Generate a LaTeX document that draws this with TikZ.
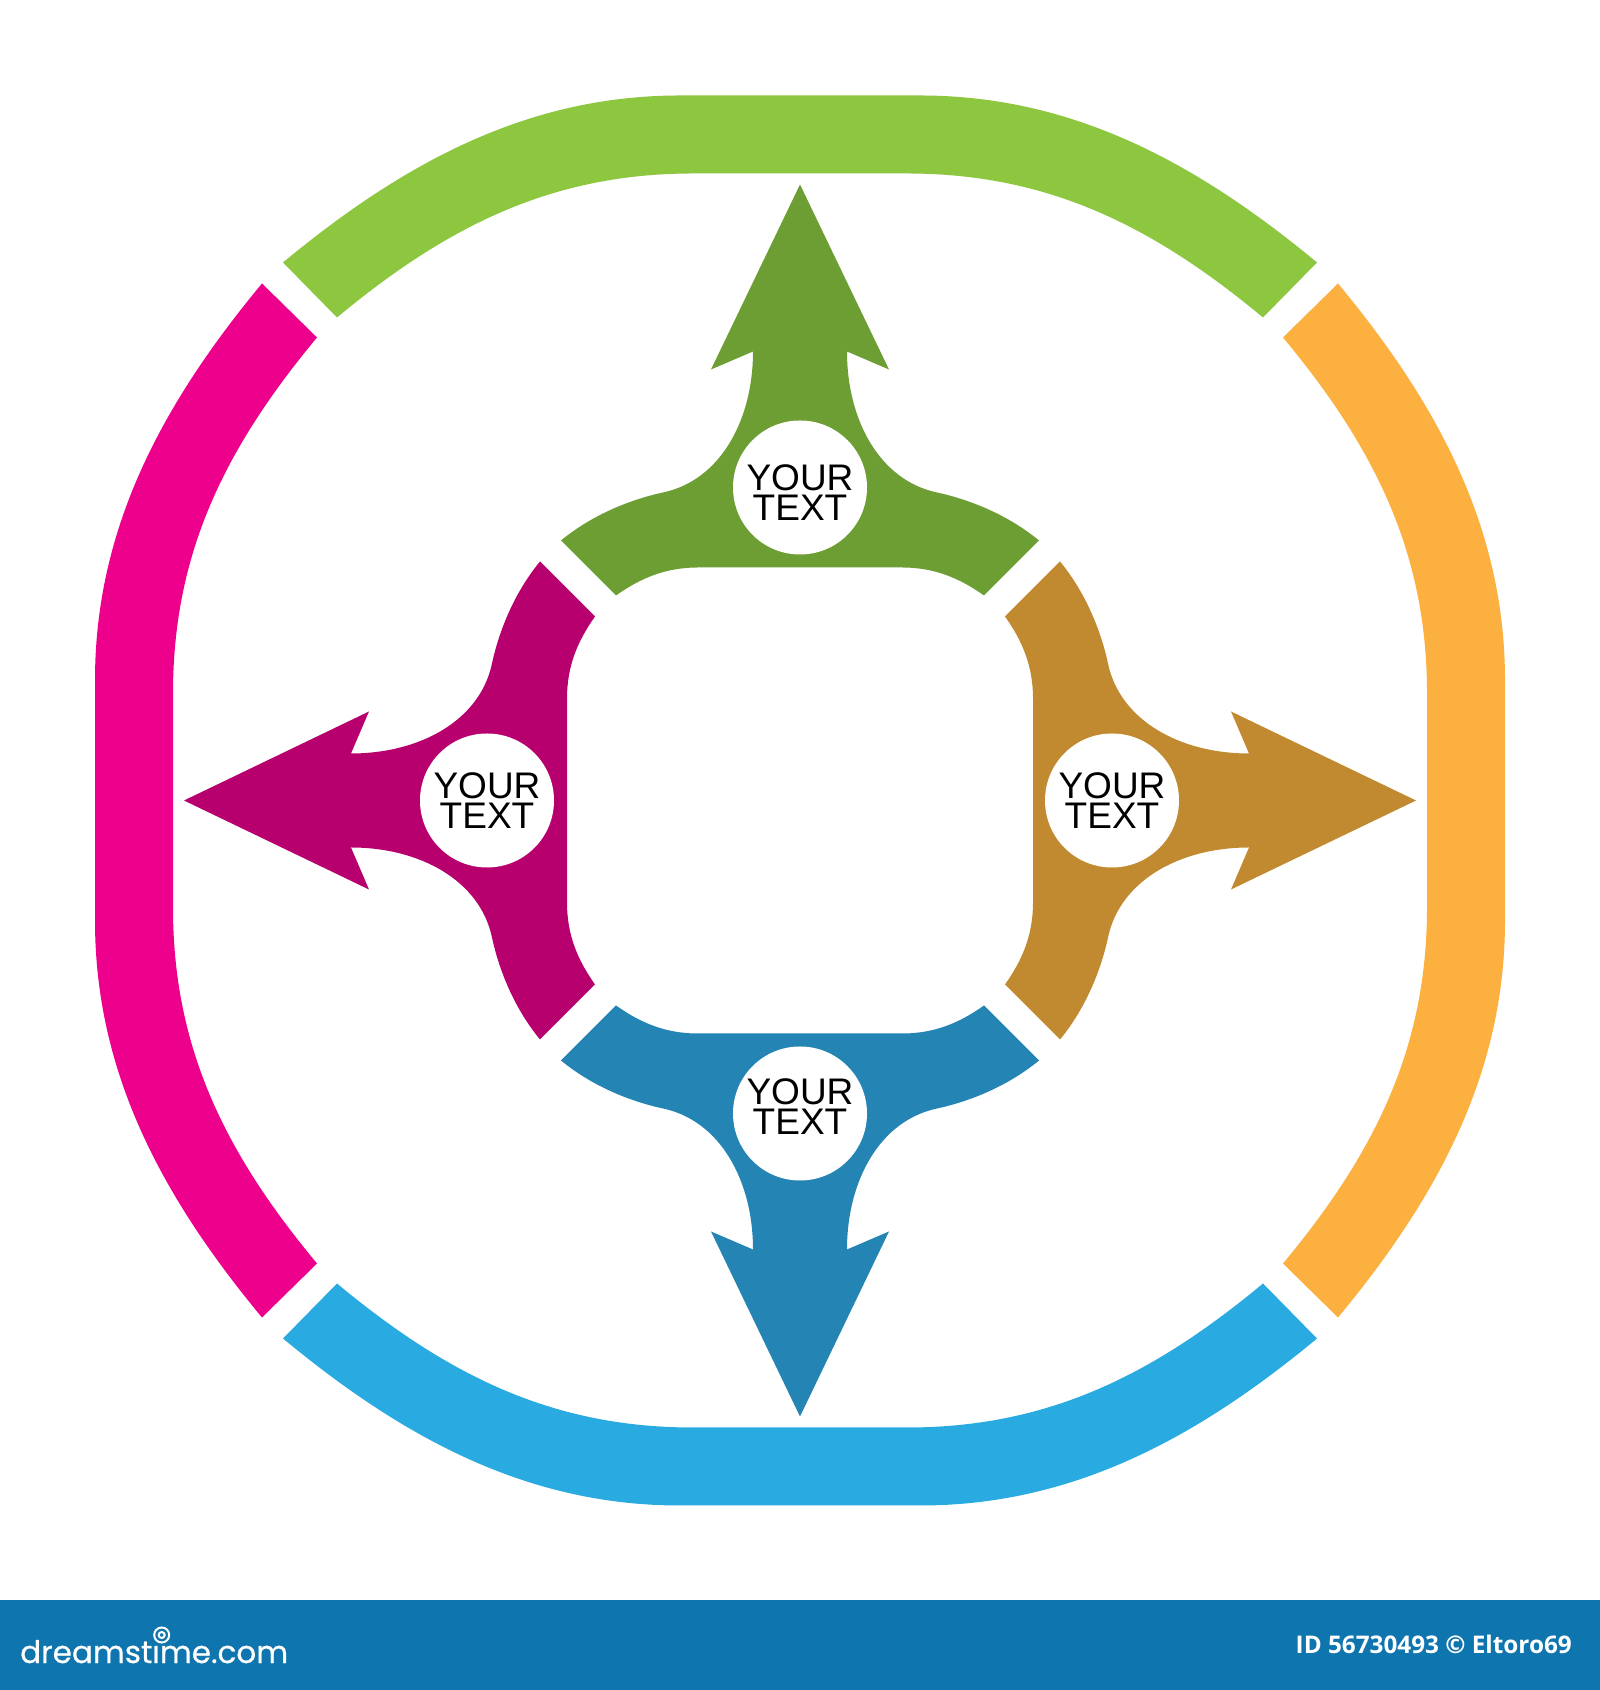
\documentclass[tikz,border=0pt]{standalone}
\usepackage{fontspec}
\setmainfont{Liberation Sans}
\newfontfamily\footfont{Open Sans}
\newfontfamily\logofont[FakeBold=0.6]{Poppins}
\definecolor{ringgreen}{HTML}{8DC63F}
\definecolor{ringpink}{HTML}{EC008C}
\definecolor{ringblue}{HTML}{29ABE2}
\definecolor{ringorange}{HTML}{FBB040}
\definecolor{arrowgreen}{HTML}{6D9E33}
\definecolor{arrowpink}{HTML}{B7006E}
\definecolor{arrowblue}{HTML}{2484B4}
\definecolor{arrowbrown}{HTML}{C28A30}
\definecolor{footerblue}{HTML}{0F75AE}
\tikzset{
  hubdisc/.style={circle,fill=white,draw=none,minimum size=134,inner sep=0},
  hubtext/.style={align=center,text=black,inner sep=0,font=\fontsize{37}{30}\selectfont},
}
\begin{document}
\begin{tikzpicture}[x=1pt,y=1pt]
\useasboundingbox (0,0) rectangle (1600,1690);
\fill[white] (0,0) rectangle (1600,1690);
\foreach \ang/\rc/\ac in {0/ringgreen/arrowgreen,90/ringpink/arrowpink,180/ringblue/arrowblue,270/ringorange/arrowbrown}{
  \begin{scope}[shift={(800,889.5)},rotate=\ang]
    % outer ring segment
    \fill[\rc] (-517,538) .. controls (-394,640) and (-270,705) .. (-120,705)
      -- (120,705) .. controls (270,705) and (394,640) .. (517,538)
      -- (463,483) .. controls (350,577) and (245,627) .. (107,627)
      -- (-107,627) .. controls (-245,627) and (-350,577) .. (-463,483) -- cycle;
    % arrow
    \fill[\ac] (0,616) -- (89,431) -- (47,449)
      .. controls (47,380) and (80,320) .. (137,308)
      .. controls (165,302) and (205,288) .. (239,260)
      -- (184,205) .. controls (160,222) and (135,233) .. (102,233)
      -- (-102,233) .. controls (-135,233) and (-160,222) .. (-184,205)
      -- (-239,260) .. controls (-205,288) and (-165,302) .. (-137,308)
      .. controls (-80,320) and (-47,380) .. (-47,449)
      -- (-89,431) -- cycle;
  \end{scope}
}
\node[hubdisc] (discN) at (800,1202.5) {};
\node[hubdisc] (discS) at (800,576.5) {};
\node[hubdisc] (discW) at (487,889.5) {};
\node[hubdisc] (discE) at (1112,889.5) {};
\node[hubtext] (textN) at ([yshift=-5]discN.center) {YOUR\\TEXT};
\node[hubtext] (textS) at ([yshift=7]discS.center) {YOUR\\TEXT};
\node[hubtext] (textW) at (discW.center) {YOUR\\TEXT};
\node[hubtext] (textE) at (discE.center) {YOUR\\TEXT};
% footer
\fill[footerblue] (0,0) rectangle (1600,90);
\node[anchor=base west,inner sep=0,text=white,font=\logofont\fontsize{31}{31}\selectfont] (logo) at (20,27) {dreamst\char"0131 me.com};
\draw[white,line width=2] (161.7,55) circle (7.5) (161.7,55) circle (3);
\node[anchor=base east,inner sep=0,text=white,font=\footfont\bfseries\fontsize{24.3}{24.3}\selectfont] (credit) at (1572,36) {ID 56730493 © Eltoro69};
\end{tikzpicture}
\end{document}
